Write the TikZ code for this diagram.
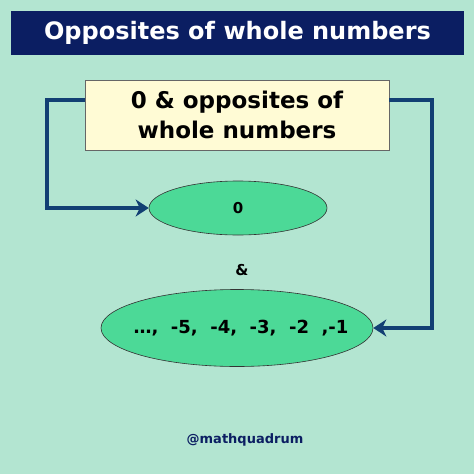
\documentclass[tikz,border=0pt]{standalone}
\usepackage{fontspec}
\setmainfont{DejaVu Sans}
\usetikzlibrary{shapes.geometric,arrows.meta}
\definecolor{bgmint}{HTML}{B3E5D1}
\definecolor{titlenavy}{HTML}{0B1E62}
\definecolor{arrownavy}{HTML}{123F73}
\definecolor{boxyellow}{HTML}{FFFBD5}
\definecolor{ellgreen}{HTML}{4CD997}
\tikzset{
  titlebar/.style={fill=titlenavy, draw=none},
  topbox/.style={draw=black!60, fill=boxyellow, line width=0.6pt, minimum width=304pt, minimum height=70pt, align=center, font=\fontsize{23}{30}\selectfont\bfseries},
  ellnode/.style={ellipse, draw=black!80, fill=ellgreen, line width=0.6pt, inner sep=0pt},
  flow/.style={draw=arrownavy, line width=3.5pt, -{Stealth[length=13pt,width=17pt,inset=4pt]}}
}
\begin{document}
\begin{tikzpicture}[x=1pt,y=-1pt]
\fill[bgmint] (0,0) rectangle (474,474);
\useasboundingbox (0,0) rectangle (474,474);
\fill[titlebar] (11,11) rectangle (464,55);
\node[text=white, font=\fontsize{24}{28}\selectfont\bfseries] (title) at (237.5,33) {Opposites of whole numbers};
\node[topbox] (box) at (237,115) {0 \& opposites of\\whole numbers};
\node[ellnode, minimum width=178pt, minimum height=54pt, font=\fontsize{15}{18}\selectfont\bfseries] (zero) at (238,208) {0};
\node[font=\fontsize{15}{18}\selectfont\bfseries] (amp) at (242,270) {\&};
\node[ellnode, minimum width=272pt, minimum height=77pt] (neg) at (237,328) {};
\node[font=\fontsize{18}{21}\selectfont\bfseries, inner sep=0pt] (negtext) at (241,328) {\ldots,\ \ -5,\ \ -4,\ \ -3,\ \ -2\ \ ,-1};
\coordinate (lc1) at (47,100);
\coordinate (lc2) at (47,208);
\coordinate (rc1) at (432,100);
\coordinate (rc2) at (432,328);
\draw[flow] (box.west |- lc1) -- (lc1) -- (lc2) -- (zero.west);
\draw[flow] (box.east |- rc1) -- (rc1) -- (rc2) -- (neg.east);
\node[text=titlenavy, font=\fontsize{13}{15}\selectfont\bfseries] (mark) at (245,440) {@mathquadrum};
\end{tikzpicture}
\end{document}
